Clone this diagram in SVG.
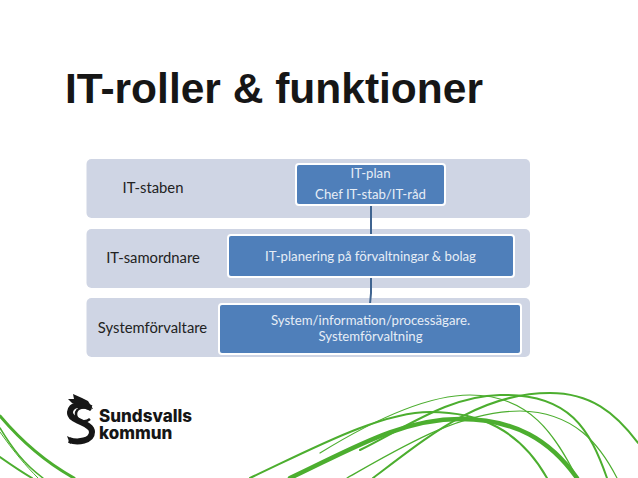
<svg xmlns="http://www.w3.org/2000/svg" width="638" height="478" viewBox="0 0 638 478">
<style>
.band{fill:#cfd5e4}
.node{fill:#4f7fba;stroke:#fff;stroke-width:2}
.lbl{font-family:"Lato","Liberation Sans",sans-serif;font-size:14.800px;fill:#222;text-anchor:middle}
.ntx{font-family:"Lato","Liberation Sans",sans-serif;font-size:13.200px;fill:#e6edf6;text-anchor:middle}
.conn{stroke:#3f6490;stroke-width:2;fill:none}
.g{fill:none;stroke:#4cae2f;stroke-linecap:round}
.logo{font-family:"Inter","Liberation Sans",sans-serif;font-weight:800;font-size:17px;fill:#161616}
</style>
<rect width="638" height="478" fill="#fff"/>
<text id="title" x="65" y="103" font-family="Liberation Sans, Arial, sans-serif" font-weight="700" font-size="42.500" fill="#161616">IT-roller &amp; funktioner</text>
<g id="decor">
<path class="g" stroke-width="3" d="M0 416C22 442 45 462 74 478"/>
<path class="g" stroke-width="1.500" d="M0 428C12 448 24 464 43 478"/>
<path class="g" stroke-width="1" d="M0 432C14 452 26 466 38 478"/>
<path class="g" stroke-width="2" d="M0 457C10 464 20 471 32 478"/>
<path class="g" stroke-width="2" d="M250 478C310 450 380 412 430 412C480 412 520 430 547 478"/>
<path class="g" stroke-width="4.500" d="M290 478C350 450 400 419 460 419C515 419 550 440 577 478"/>
<path class="g" stroke-width="1.200" d="M320 453C380 416 430 395 470 395C530 395 555 435 577 478"/>
<path class="g" stroke-width="2" d="M373 478C430 435 480 393 550 393C590 393 615 412 638 443"/>
<path class="g" stroke-width="2" d="M360 450C410 425 450 396 500 395C570 393 590 430 607 478"/>
<path class="g" stroke-width="1.200" d="M347 478C400 448 460 411 520 411C575 412 600 445 617 478"/>
</g>
<g id="band-1"><rect class="band" x="86.500" y="159" width="443.500" height="59" rx="5"/><text class="lbl" x="153" y="193">IT-staben</text></g>
<g id="band-2"><rect class="band" x="86.500" y="229" width="443.500" height="59" rx="5"/><text class="lbl" x="153" y="263">IT-samordnare</text></g>
<g id="band-3"><rect class="band" x="86.500" y="298" width="443.500" height="59" rx="5"/><text class="lbl" x="152.500" y="333">Systemförvaltare</text></g>
<g id="connectors">
<path class="conn" d="M371 205V235"/>
<path class="conn" d="M371 277V293L370 304"/>
</g>
<g id="node-1"><rect class="node" x="296" y="164" width="149" height="41" rx="3"/><text class="ntx" x="370.500" y="178">IT-plan</text><text class="ntx" x="370.500" y="199">Chef IT-stab/IT-råd</text></g>
<g id="node-2"><rect class="node" x="228" y="235" width="286" height="42" rx="3"/><text class="ntx" x="370.500" y="261">IT-planering på förvaltningar &amp; bolag</text></g>
<g id="node-3"><rect class="node" x="219" y="304" width="302" height="50" rx="3"/><text class="ntx" x="370.500" y="325">System/information/processägare.</text><text class="ntx" x="370.500" y="341">Systemförvaltning</text></g>
<g id="logo">
<path d="M91 408C82 403 71 404 70 412C69 422 92 422 92 432C92 441 78 443 69 440" fill="none" stroke="#161616" stroke-width="6"/>
<path d="M90 419C84 424 76 420 76 414C76 408 85 405 91 410" fill="none" stroke="#161616" stroke-width="2.500"/>
<path d="M68 399L74 399L73 394L82 398L88 401L93 409L88 408L84 404L72 403Z" fill="#161616"/>
<path d="M67 436L70 444L75 440Z" fill="#161616"/>
<text class="logo" x="99" y="422">Sundsvalls</text>
<text class="logo" x="99" y="438.500">kommun</text>
</g>
</svg>
